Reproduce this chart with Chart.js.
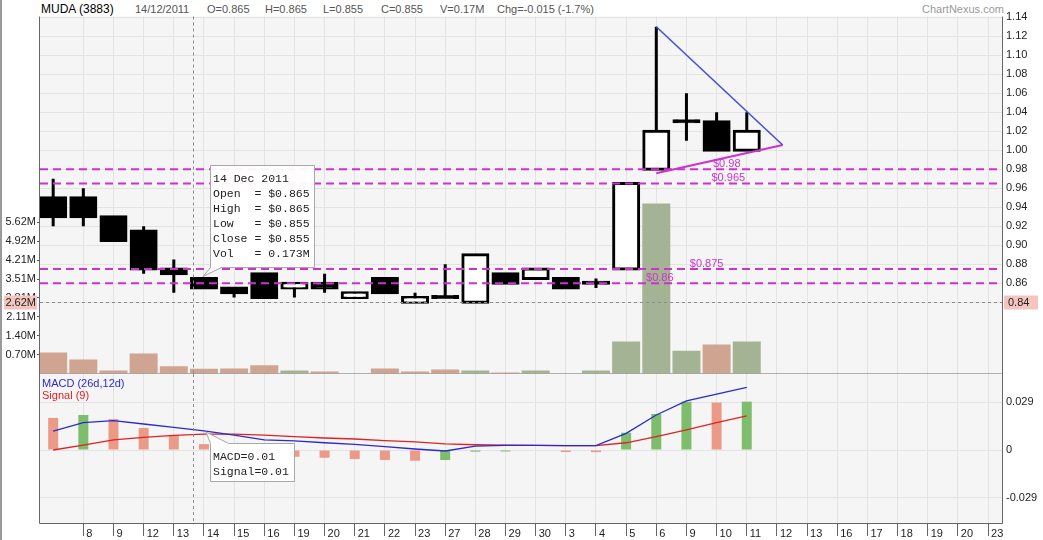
<!DOCTYPE html>
<html>
<head>
<meta charset="utf-8">
<script src="https://cdn.jsdelivr.net/npm/chart.js@4.4.0/dist/chart.umd.min.js"></script>
<style>
  body { margin: 0; background: #fff; }
  #wrap { position: relative; width: 1043px; height: 540px; overflow: hidden; font-family: Arial, "Liberation Sans", sans-serif; }
  #edge { position: absolute; left: 0; top: 0; width: 2px; height: 540px; background: #9a9a9a; }
  #head span { position: absolute; top: 2px; line-height: 14px; font-size: 11px; color: #555; white-space: nowrap; }
  #head span.name { font-size: 12px; color: #000; }
  #head span.brand { color: #999; }
  canvas { position: absolute; left: 0; }
</style>
</head>
<body>
<div id="wrap">
  <div id="edge"></div>
  <div id="head"></div>
  <canvas id="main" width="1043" height="374" style="top:0"></canvas>
  <canvas id="macd" width="1043" height="166" style="top:374px"></canvas>
</div>
<script>
// trading days (slot 0 has no label on the axis)
const dates = ['7', '8', '9', '12', '13', '14', '15', '16', '19', '20', '21', '22', '23', '27', '28', '29',
               '30', '3', '4', '5', '6', '9', '10', '11', '12', '13', '16', '17', '18', '19', '20', '23'];

const opens  = [0.95, 0.95, 0.93, 0.915, 0.875, 0.865, 0.855, 0.87, 0.855, 0.86, 0.845, 0.865, 0.84, 0.845, 0.84, 0.87,
                0.865, 0.865, 0.86, 0.875, 0.98, 1.03, 1.03, 1.00];
const highs  = [0.97, 0.96, 0.93, 0.92, 0.885, 0.865, 0.855, 0.87, 0.86, 0.87, 0.85, 0.865, 0.85, 0.88, 0.89, 0.87,
                0.875, 0.865, 0.865, 0.965, 1.13, 1.06, 1.04, 1.04];
const lows   = [0.92, 0.92, 0.905, 0.87, 0.85, 0.855, 0.845, 0.845, 0.845, 0.85, 0.845, 0.85, 0.84, 0.845, 0.84, 0.86,
                0.865, 0.855, 0.855, 0.875, 0.98, 1.01, 1.00, 1.00];
const closes = [0.93, 0.93, 0.905, 0.875, 0.87, 0.855, 0.85, 0.845, 0.86, 0.855, 0.85, 0.85, 0.845, 0.845, 0.89, 0.86,
                0.875, 0.855, 0.86, 0.965, 1.02, 1.03, 1.00, 1.02];
// volume in millions
const volumes = [0.78, 0.52, 0.11, 0.74, 0.27, 0.173, 0.19, 0.31, 0.11, 0.07, 0, 0.19, 0.07, 0.15, 0.11, 0.04,
                 0.11, 0, 0.11, 1.19, 6.32, 0.85, 1.08, 1.19];

const macd   = [0.0115, 0.0166, 0.0178, 0.0158, 0.0138, 0.0116, 0.0091, 0.0061, 0.0055, 0.0044, 0.0034, 0.0020,
                0.0006, -0.0006, 0.0024, 0.0028, 0.0028, 0.0026, 0.0026, 0.0101, 0.0213, 0.0298, 0.0340, 0.0381];
const signal = [0.0, 0.0030, 0.0061, 0.0077, 0.0089, 0.0097, 0.0097, 0.0091, 0.0081, 0.0073, 0.0067, 0.0057,
                0.0049, 0.0037, 0.0032, 0.0030, 0.0028, 0.0026, 0.0026, 0.0044, 0.0081, 0.0122, 0.0166, 0.0207];
const hist   = [0.0195, 0.0213, 0.0188, 0.0134, 0.0091, 0.0036, 0.0002, -0.0025, -0.0041, -0.0047, -0.0055, -0.0061,
                -0.0065, -0.0061, -0.0010, -0.0009, -0.0003, -0.0012, -0.0013, 0.0105, 0.0219, 0.0294, 0.0288, 0.0294];

const priceTicks = [0.84, 0.86, 0.88, 0.90, 0.92, 0.94, 0.96, 0.98, 1.00, 1.02, 1.04, 1.06, 1.08, 1.10, 1.12, 1.14];
const volTicks = [0.70, 1.40, 2.11, 2.81, 3.51, 4.21, 4.92, 5.62];
const macdTicks = [-0.029, 0, 0.029];

// support / resistance levels and the triangle drawn on the chart
const levels = [0.98, 0.965, 0.875, 0.86];
const trendHigh = [{ x: 20, y: 1.13 }, { x: 24.19, y: 1.0056 }];
const trendLow = [{ x: 20, y: 0.9758 }, { x: 24.19, y: 1.0056 }];

// selected day (crosshair + tooltips)
const sel = 5;
const selDate = '14 Dec 2011';
const headDate = '14/12/2011';
const cursorSlot = 4.635;
const cursorPrice = 0.84;
const cursorVolLabel = '2.62M';

// styling
const levelLabelAt = [21.88, 21.83, 21.11, 19.66];
const X_MIN = -0.437, X_MAX = 31.464;
const FONT = 'Arial, "Liberation Sans", sans-serif';
const MONO = '"Liberation Mono", "Courier New", monospace';
const magenta = '#cc33cc';
const gridColor = '#e3e3e3';

Chart.defaults.font.family = FONT;
Chart.defaults.font.size = 11;
Chart.defaults.color = '#222';

// header
const chg = closes[sel] - closes[sel - 1];
const headItems = [
  ['name', 41, 'MUDA (3883)'],
  ['', 135, headDate],
  ['', 207, 'O=' + opens[sel].toFixed(3)],
  ['', 265, 'H=' + highs[sel].toFixed(3)],
  ['', 323, 'L=' + lows[sel].toFixed(3)],
  ['', 381, 'C=' + closes[sel].toFixed(3)],
  ['', 440, 'V=' + volumes[sel].toFixed(2) + 'M'],
  ['', 497, 'Chg=' + chg.toFixed(3) + ' (' + (chg / closes[sel - 1] * 100).toFixed(1) + '%)'],
  ['brand', 922, 'ChartNexus.com']
];
const head = document.getElementById('head');
headItems.forEach(([cls, left, text]) => {
  const s = document.createElement('span');
  s.className = cls;
  s.style.left = left + 'px';
  s.textContent = text;
  head.appendChild(s);
});

const idx = opens.map((_, i) => i);
const bodyData = idx.map(i => ({ x: i, y: [Math.min(opens[i], closes[i]), Math.max(opens[i], closes[i])] }));
const wickData = idx.map(i => ({ x: i, y: [lows[i], highs[i]] }));
const bodyFill = idx.map(i => closes[i] > opens[i] ? '#ffffff' : '#000000');
const volColor = idx.map(i => i > 0 && closes[i] > closes[i - 1] ? '#a4b394' : '#cfa490');
const histColor = idx.map(i => i > 0 && hist[i] > hist[i - 1] ? '#7dbd6b' : '#eb9a88');

function slotTicks(s) { s.ticks = dates.map((d, i) => ({ value: i })); }
function noPad(s) { s.paddingLeft = 0; s.paddingRight = 0; s.paddingTop = 0; s.paddingBottom = 0; }
const gridX = c => (c.tick && c.tick.value === 0) ? 'rgba(0,0,0,0)' : gridColor;

const bgPlugin = {
  id: 'bg',
  beforeDraw(chart) {
    const { ctx, chartArea: a } = chart;
    ctx.save();
    ctx.fillStyle = '#f5f5f5';
    ctx.fillRect(a.left, a.top, a.right - a.left, a.bottom - a.top);
    ctx.restore();
  }
};

function frame(ctx, a) {
  ctx.save();
  ctx.strokeStyle = '#666';
  ctx.lineWidth = 1;
  ctx.setLineDash([]);
  ctx.beginPath();
  ctx.moveTo(a.left - 0.5, a.top);
  ctx.lineTo(a.left - 0.5, a.bottom + 0.5);
  ctx.lineTo(a.right + 0.5, a.bottom + 0.5);
  ctx.lineTo(a.right + 0.5, a.top);
  ctx.stroke();
  ctx.restore();
}

const mainOverlay = {
  id: 'mainOverlay',
  afterDatasetsDraw(chart) {
    const { ctx, chartArea: a, scales: { x, y } } = chart;
    ctx.save();
    ctx.font = '11px ' + FONT;
    ctx.fillStyle = magenta;
    ctx.textAlign = 'left';
    ctx.textBaseline = 'alphabetic';
    levels.forEach((v, k) => {
      ctx.fillText('$' + v, x.getPixelForValue(levelLabelAt[k]), y.getPixelForValue(v) - 2.5);
    });
    const cx = Math.round(x.getPixelForValue(cursorSlot)) + 0.5;
    const cy = Math.round(y.getPixelForValue(cursorPrice)) + 0.5;
    ctx.strokeStyle = '#8c8c8c';
    ctx.lineWidth = 1;
    ctx.setLineDash([3, 3]);
    ctx.beginPath();
    ctx.moveTo(cx, a.top);
    ctx.lineTo(cx, a.bottom);
    ctx.moveTo(a.left, cy);
    ctx.lineTo(a.right, cy);
    ctx.stroke();
    ctx.restore();
  },
  afterDraw(chart) {
    const { ctx, chartArea: a, scales: { x, y } } = chart;
    frame(ctx, a);
    ctx.save();
    // highlighted axis values at the crosshair
    const cy = Math.round(y.getPixelForValue(cursorPrice)) + 0.5;
    ctx.fillStyle = '#f4c5bf';
    ctx.fillRect(a.left - 36, cy - 7, 33, 14);
    ctx.fillRect(a.right + 2, cy - 7, 34, 14);
    ctx.fillStyle = '#222';
    ctx.font = '11px ' + FONT;
    ctx.textBaseline = 'middle';
    ctx.textAlign = 'right';
    ctx.fillText(cursorVolLabel, a.left - 4, cy);
    ctx.textAlign = 'left';
    ctx.fillText(cursorPrice.toFixed(2), a.right + 6, cy);

    // tooltip of the selected day
    const ax = x.getPixelForValue(sel), ay = y.getPixelForValue(highs[sel]);
    const tipX = ax - 1, tipY = ay - 2;
    const bx = Math.round(ax + 6.5) + 0.5, by = Math.round(ay - 114) + 0.5, bw = 104, bh = 102;
    ctx.beginPath();
    ctx.moveTo(bx, by);
    ctx.lineTo(bx + bw, by);
    ctx.lineTo(bx + bw, by + bh);
    ctx.lineTo(bx + 11, by + bh);
    ctx.lineTo(tipX, tipY);
    ctx.lineTo(bx, by + bh);
    ctx.closePath();
    ctx.fillStyle = 'rgba(255,255,255,0.94)';
    ctx.fill();
    ctx.strokeStyle = '#a8a8a8';
    ctx.lineWidth = 1;
    ctx.stroke();
    const f = v => '$' + v.toFixed(3);
    const lines = [selDate,
      'Open  = ' + f(opens[sel]),
      'High  = ' + f(highs[sel]),
      'Low   = ' + f(lows[sel]),
      'Close = ' + f(closes[sel]),
      'Vol   = ' + volumes[sel].toFixed(3) + 'M'];
    ctx.fillStyle = '#222';
    ctx.font = '11.5px ' + MONO;
    ctx.textAlign = 'left';
    ctx.textBaseline = 'middle';
    lines.forEach((t, k) => ctx.fillText(t, bx + 2.5, by + 13.5 + k * 15));
    ctx.restore();
  }
};

new Chart(document.getElementById('main'), {
  type: 'bar',
  data: {
    datasets: [
      ...levels.map(v => ({
        type: 'line', yAxisID: 'y', data: [{ x: X_MIN, y: v }, { x: X_MAX, y: v }],
        borderColor: magenta, borderWidth: 2, borderDash: [8, 5], pointRadius: 0, order: 0
      })),
      { type: 'line', yAxisID: 'y', data: trendHigh, borderColor: '#4848dc', borderWidth: 1.5, pointRadius: 0, order: 1 },
      { type: 'line', yAxisID: 'y', data: trendLow, borderColor: magenta, borderWidth: 2, pointRadius: 0, order: 1 },
      {
        type: 'bar', yAxisID: 'y', data: bodyData, backgroundColor: bodyFill, borderColor: '#000', borderWidth: 3,
        borderSkipped: false, barThickness: 25, inflateAmount: 1.5, minBarLength: 1, grouped: false, order: 2
      },
      { type: 'bar', yAxisID: 'y', data: wickData, backgroundColor: '#000', barThickness: 3, inflateAmount: 0, grouped: false, order: 3 },
      {
        type: 'bar', yAxisID: 'yv', data: volumes.map((v, i) => ({ x: i, y: v })), backgroundColor: volColor,
        barThickness: 28, inflateAmount: 0, grouped: false, order: 4
      }
    ]
  },
  options: {
    responsive: false,
    animation: false,
    events: [],
    layout: { padding: { top: 16.5, bottom: 0.5, left: 0, right: 0 } },
    plugins: { legend: { display: false }, tooltip: { enabled: false } },
    scales: {
      x: {
        type: 'linear', min: X_MIN, max: X_MAX, offset: false,
        afterBuildTicks: slotTicks,
        afterFit: s => { s.height = 0; noPad(s); },
        ticks: { display: false },
        grid: { color: gridX, drawTicks: false, offset: false },
        border: { display: false }
      },
      y: {
        type: 'linear', position: 'right', min: 0.765053, max: 1.140842,
        afterBuildTicks: s => { s.ticks = priceTicks.map(v => ({ value: v })); },
        afterFit: s => { s.width = 41; noPad(s); },
        ticks: { padding: 4, callback: v => v.toFixed(2) },
        grid: { color: gridColor, drawTicks: false },
        border: { display: false }
      },
      yv: {
        type: 'linear', position: 'left', min: 0, max: 13.27,
        afterBuildTicks: s => { s.ticks = volTicks.map(v => ({ value: v })); },
        afterFit: s => { s.width = 40; noPad(s); },
        ticks: { padding: 1, callback: v => v.toFixed(2) + 'M' },
        grid: { drawOnChartArea: false, drawTicks: true, tickLength: 3, tickColor: '#555' },
        border: { display: false }
      }
    }
  },
  plugins: [bgPlugin, mainOverlay]
});

const macdOverlay = {
  id: 'macdOverlay',
  afterDatasetsDraw(chart) {
    const { ctx, chartArea: a, scales: { x, y } } = chart;
    ctx.save();
    const cx = Math.round(x.getPixelForValue(cursorSlot)) + 0.5;
    ctx.strokeStyle = '#8c8c8c';
    ctx.lineWidth = 1;
    ctx.setLineDash([3, 3]);
    ctx.beginPath();
    ctx.moveTo(cx, a.top);
    ctx.lineTo(cx, a.bottom);
    ctx.stroke();
    ctx.restore();
  },
  afterDraw(chart) {
    const { ctx, chartArea: a, scales: { x, y } } = chart;
    frame(ctx, a);
    ctx.save();
    ctx.font = '11px ' + FONT;
    ctx.textAlign = 'left';
    ctx.textBaseline = 'middle';
    ctx.fillStyle = '#2a2ad0';
    ctx.fillText('MACD (26d,12d)', a.left + 2, a.top + 9.5);
    ctx.fillStyle = '#dd2222';
    ctx.fillText('Signal (9)', a.left + 2, a.top + 21.8);

    const ax = x.getPixelForValue(sel), ay = y.getPixelForValue(macd[sel]);
    const tipX = ax + 2, tipY = ay + 1;
    const bx = Math.round(ax + 6) + 0.5, by = Math.round(ay + 12) + 0.5, bw = 84, bh = 38;
    ctx.beginPath();
    ctx.moveTo(bx, by);
    ctx.lineTo(tipX, tipY);
    ctx.lineTo(bx + 18, by);
    ctx.lineTo(bx + bw, by);
    ctx.lineTo(bx + bw, by + bh);
    ctx.lineTo(bx, by + bh);
    ctx.closePath();
    ctx.fillStyle = 'rgba(255,255,255,0.94)';
    ctx.fill();
    ctx.strokeStyle = '#a8a8a8';
    ctx.lineWidth = 1;
    ctx.stroke();
    ctx.fillStyle = '#222';
    ctx.font = '11.5px ' + MONO;
    ctx.fillText('MACD=' + macd[sel].toFixed(2), bx + 2.5, by + 13.5);
    ctx.fillText('Signal=' + signal[sel].toFixed(2), bx + 2.5, by + 28);
    ctx.restore();
  }
};

new Chart(document.getElementById('macd'), {
  type: 'bar',
  data: {
    datasets: [
      { type: 'line', data: macd.map((v, i) => ({ x: i, y: v })), borderColor: '#2a2ad0', borderWidth: 1.3, pointRadius: 0, order: 0 },
      { type: 'line', data: signal.map((v, i) => ({ x: i, y: v })), borderColor: '#e02222', borderWidth: 1.3, pointRadius: 0, order: 1 },
      {
        type: 'bar', data: hist.map((v, i) => ({ x: i, y: v })), backgroundColor: histColor,
        barThickness: 10, inflateAmount: 0, grouped: false, order: 2
      }
    ]
  },
  options: {
    responsive: false,
    animation: false,
    events: [],
    layout: { padding: { left: 40, top: 0, right: 0, bottom: 0 } },
    plugins: { legend: { display: false }, tooltip: { enabled: false } },
    scales: {
      x: {
        type: 'linear', min: X_MIN, max: X_MAX, offset: false,
        afterBuildTicks: slotTicks,
        afterFit: s => { s.height = 17; noPad(s); },
        ticks: {
          autoSkip: false, maxRotation: 0, minRotation: 0, align: 'start', labelOffset: 3, padding: -9,
          callback: v => v === 0 ? '' : dates[v]
        },
        grid: {
          color: gridX, offset: false, drawTicks: true, tickLength: 13,
          tickColor: c => (c.tick && c.tick.value === 0) ? 'rgba(0,0,0,0)' : '#666'
        },
        border: { display: false }
      },
      y: {
        type: 'linear', position: 'right', min: -0.044382, max: 0.046206,
        afterBuildTicks: s => { s.ticks = macdTicks.map(v => ({ value: v })); },
        afterFit: s => { s.width = 41; noPad(s); },
        ticks: { padding: 4, callback: v => v === 0 ? '0' : v.toFixed(3) },
        grid: { color: gridColor, drawTicks: false },
        border: { display: false }
      }
    }
  },
  plugins: [bgPlugin, macdOverlay]
});
</script>
</body>
</html>
